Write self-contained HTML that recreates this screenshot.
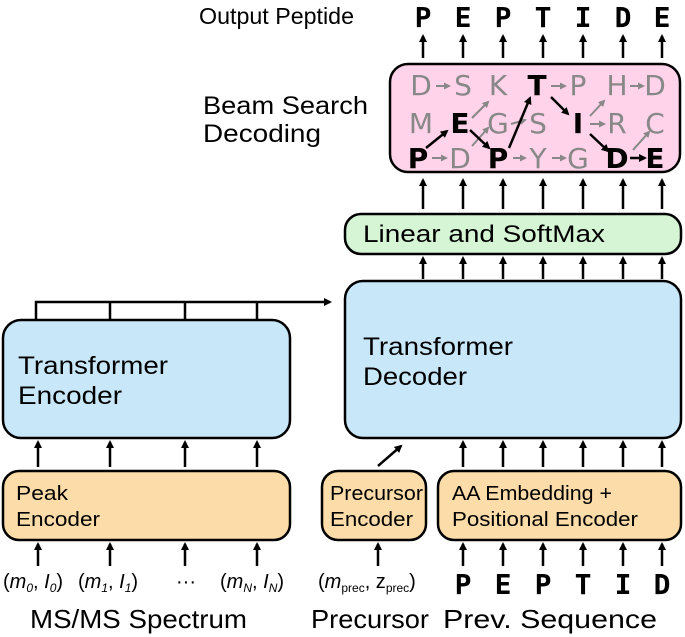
<!DOCTYPE html>
<html><head><style>body{margin:0;background:#fff}svg{display:block}</style></head><body>
<svg width="685" height="637" viewBox="0 0 685 637" xmlns="http://www.w3.org/2000/svg" font-family="Liberation Sans, sans-serif">
<defs>
<marker id="a" markerWidth="8" markerHeight="8" refX="6" refY="4" orient="auto" markerUnits="userSpaceOnUse"><path d="M0,0 L8,4 L0,8 Z" fill="#000"/></marker>
<marker id="g" markerWidth="7" markerHeight="7" refX="5" refY="3.5" orient="auto" markerUnits="userSpaceOnUse"><path d="M0,0 L7,3.5 L0,7 Z" fill="#888"/></marker>
</defs>
<g stroke="#000" stroke-width="2.5" fill="none" marker-end="url(#a)">
<path d="M423,58V36"/><path d="M463,58V36"/><path d="M503,58V36"/><path d="M543,58V36"/><path d="M583,58V36"/><path d="M623,58V36"/><path d="M662,58V36"/>
<path d="M423,209V180"/><path d="M463,209V180"/><path d="M503,209V180"/><path d="M543,209V180"/><path d="M583,209V180"/><path d="M623,209V180"/><path d="M662,209V180"/>
<path d="M423,279V258"/><path d="M463,279V258"/><path d="M503,279V258"/><path d="M543,279V258"/><path d="M583,279V258"/><path d="M623,279V258"/><path d="M662,279V258"/>
<path d="M463,467V442"/><path d="M503,467V442"/><path d="M543,467V442"/><path d="M583,467V442"/><path d="M623,467V442"/><path d="M662,467V442"/>
<path d="M38,467V442"/><path d="M110,467V442"/><path d="M185,467V442"/><path d="M257,467V442"/>
<path d="M378,466L401,446"/>
<path d="M38,566V544"/><path d="M110,566V544"/><path d="M185,566V544"/><path d="M257,566V544"/>
<path d="M378,566V544"/>
<path d="M463,566V544"/><path d="M503,566V544"/><path d="M543,566V544"/><path d="M583,566V544"/><path d="M623,566V544"/><path d="M662,566V544"/>
<path d="M36,320V302H330"/>
</g>
<g stroke="#000" stroke-width="2.5"><path d="M110,320V302M185,320V302M257,320V302"/></g>
<rect x="390" y="64" width="290" height="108" rx="18" fill="#ffd3ea" stroke="#000" stroke-width="2.5"/>
<rect x="345" y="214" width="336" height="40" rx="16" fill="#d5f5d5" stroke="#000" stroke-width="2.5"/>
<rect x="345" y="281" width="336" height="157" rx="18" fill="#c8e8fa" stroke="#000" stroke-width="2.5"/>
<rect x="3" y="320" width="287" height="118" rx="18" fill="#c8e8fa" stroke="#000" stroke-width="2.5"/>
<rect x="3" y="471" width="287" height="69" rx="16" fill="#fcdca8" stroke="#000" stroke-width="2.5"/>
<rect x="322" y="471" width="104" height="69" rx="16" fill="#fcdca8" stroke="#000" stroke-width="2.5"/>
<rect x="438" y="471" width="243" height="69" rx="16" fill="#fcdca8" stroke="#000" stroke-width="2.5"/>
<text x="199" y="24" font-size="23" textLength="155" lengthAdjust="spacingAndGlyphs">Output Peptide</text>
<text x="203" y="114" font-size="25" textLength="165" lengthAdjust="spacingAndGlyphs">Beam Search</text>
<text x="203" y="142" font-size="25" textLength="118" lengthAdjust="spacingAndGlyphs">Decoding</text>
<text x="363" y="242" font-size="24" textLength="242" lengthAdjust="spacingAndGlyphs">Linear and SoftMax</text>
<text x="363" y="355" font-size="25" textLength="150" lengthAdjust="spacingAndGlyphs">Transformer</text>
<text x="363" y="385" font-size="25" textLength="104" lengthAdjust="spacingAndGlyphs">Decoder</text>
<text x="18" y="374" font-size="25" textLength="150" lengthAdjust="spacingAndGlyphs">Transformer</text>
<text x="18" y="404" font-size="25" textLength="104" lengthAdjust="spacingAndGlyphs">Encoder</text>
<text x="16" y="500" font-size="20" textLength="52" lengthAdjust="spacingAndGlyphs">Peak</text>
<text x="16" y="526" font-size="20" textLength="84" lengthAdjust="spacingAndGlyphs">Encoder</text>
<text x="330" y="500" font-size="20" textLength="93" lengthAdjust="spacingAndGlyphs">Precursor</text>
<text x="330" y="526" font-size="20" textLength="83" lengthAdjust="spacingAndGlyphs">Encoder</text>
<text x="452" y="500" font-size="20" textLength="160" lengthAdjust="spacingAndGlyphs">AA Embedding +</text>
<text x="452" y="526" font-size="20" textLength="186" lengthAdjust="spacingAndGlyphs">Positional Encoder</text>
<g font-size="20" font-style="italic">
<text x="3" y="588"><tspan font-style="normal">(</tspan>m<tspan font-size="12" dy="4">0</tspan><tspan dy="-4" font-style="normal">, </tspan>I<tspan font-size="12" dy="4">0</tspan><tspan dy="-4" font-style="normal">)</tspan></text>
<text x="78" y="588"><tspan font-style="normal">(</tspan>m<tspan font-size="12" dy="4">1</tspan><tspan dy="-4" font-style="normal">, </tspan>I<tspan font-size="12" dy="4">1</tspan><tspan dy="-4" font-style="normal">)</tspan></text>
<text x="176" y="588" font-style="normal">···</text>
<text x="220" y="588"><tspan font-style="normal">(</tspan>m<tspan font-size="12" dy="4">N</tspan><tspan dy="-4" font-style="normal">, </tspan>I<tspan font-size="12" dy="4">N</tspan><tspan dy="-4" font-style="normal">)</tspan></text>
<text x="318" y="588"><tspan font-style="normal">(</tspan>m<tspan font-size="12" dy="4" font-style="normal">prec</tspan><tspan dy="-4" font-style="normal">, z</tspan><tspan font-size="12" dy="4" font-style="normal">prec</tspan><tspan dy="-4" font-style="normal">)</tspan></text>
</g>
<text x="30" y="628" font-size="26" textLength="217" lengthAdjust="spacingAndGlyphs">MS/MS Spectrum</text>
<text x="311" y="628" font-size="26" textLength="118" lengthAdjust="spacingAndGlyphs">Precursor</text>
<text x="443" y="628" font-size="26" textLength="214" lengthAdjust="spacingAndGlyphs">Prev. Sequence</text>
<g font-family="DejaVu Sans Mono, monospace" font-weight="bold" font-size="28" text-anchor="middle">
<text x="423" y="27">P</text><text x="463" y="27">E</text><text x="503" y="27">P</text><text x="543" y="27">T</text><text x="583" y="27">I</text><text x="623" y="27">D</text><text x="662" y="27">E</text>
<text x="463" y="594">P</text><text x="503" y="594">E</text><text x="543" y="594">P</text><text x="583" y="594">T</text><text x="623" y="594">I</text><text x="662" y="594">D</text>
</g>
<g font-family="DejaVu Sans, sans-serif" font-size="28" text-anchor="middle" fill="#888">
<text x="421" y="95">D</text><text x="463" y="95">S</text><text x="498" y="95">K</text><text x="578" y="95">P</text><text x="617" y="95">H</text><text x="655" y="95">D</text>
<text x="421" y="133">M</text><text x="498" y="133">G</text><text x="538" y="133">S</text><text x="617" y="133">R</text><text x="655" y="133">C</text>
<text x="460" y="168">D</text><text x="538" y="168">Y</text><text x="578" y="168">G</text>
<g fill="#000" font-weight="bold"><text x="537" y="95">T</text><text x="460" y="133">E</text><text x="578" y="133">I</text><text x="418" y="168">P</text><text x="498" y="168">P</text><text x="617" y="168">D</text><text x="655" y="168">E</text></g>
</g>
<g stroke="#888" stroke-width="2" marker-end="url(#g)" fill="none">
<path d="M436,86H449"/><path d="M551,86H565"/><path d="M630,86H643"/>
<path d="M432,158H446"/><path d="M513,158H525"/><path d="M552,158H565"/>
<path d="M472,118L488,102"/><path d="M472,146L488,128"/><path d="M511,124L525,120"/>
<path d="M590,116L604,101"/><path d="M590,124H604"/><path d="M633,150L649,132"/>
</g>
<g stroke="#000" stroke-width="2.5" marker-end="url(#a)" fill="none">
<path d="M426,148L447,131"/><path d="M470,130L489,148"/><path d="M509,148L530,98"/>
<path d="M551,97L568,114"/><path d="M590,134L608,151"/><path d="M630,158H645"/>
</g>
</svg>
</body></html>
